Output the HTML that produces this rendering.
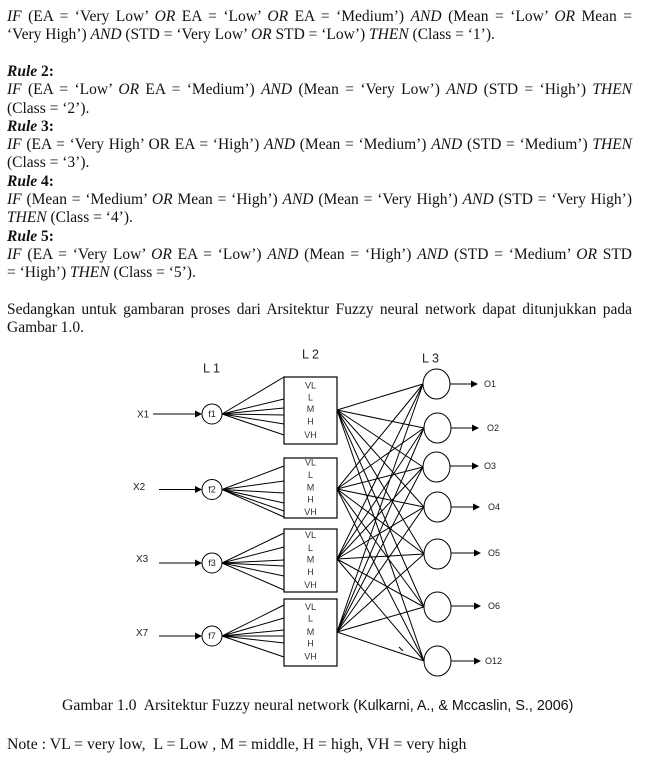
<!DOCTYPE html>
<html><head><meta charset="utf-8"><style>
html,body{margin:0;padding:0;background:#fff;}
body{width:647px;height:767px;position:relative;overflow:hidden;color:#111;}
.l{position:absolute;left:7px;width:625px;height:18.3px;line-height:18.3px;font-family:"Liberation Serif","Times New Roman",serif;font-size:15.5px;white-space:nowrap;}
.j{text-align:justify;text-align-last:justify;white-space:normal;}
svg{position:absolute;left:0;top:0;}
</style></head><body>
<div class="l j" style="top:8px"><i>IF</i> (EA = ‘Very Low’ <i>OR</i> EA = ‘Low’ <i>OR</i> EA = ‘Medium’) <i>AND</i> (Mean = ‘Low’ <i>OR</i> Mean =</div>
<div class="l" style="top:26.3px">‘Very High’) <i>AND</i> (STD = ‘Very Low’ <i>OR</i> STD = ‘Low’) <i>THEN</i> (Class = ‘1’).</div>
<div class="l" style="top:62.9px"><b><i>Rule</i> 2:</b></div>
<div class="l j" style="top:81.2px"><i>IF</i> (EA = ‘Low’ <i>OR</i> EA = ‘Medium’) <i>AND</i> (Mean = ‘Very Low’) <i>AND</i> (STD = ‘High’) <i>THEN</i></div>
<div class="l" style="top:99.5px">(Class = ‘2’).</div>
<div class="l" style="top:117.8px"><b><i>Rule</i> 3:</b></div>
<div class="l j" style="top:136.1px"><i>IF</i> (EA = ‘Very High’ OR EA = ‘High’) <i>AND</i> (Mean = ‘Medium’) <i>AND</i> (STD = ‘Medium’) <i>THEN</i></div>
<div class="l" style="top:154.4px">(Class = ‘3’).</div>
<div class="l" style="top:172.7px"><b><i>Rule</i> 4:</b></div>
<div class="l j" style="top:191px"><i>IF</i> (Mean = ‘Medium’ <i>OR</i> Mean = ‘High’) <i>AND</i> (Mean = ‘Very High’) <i>AND</i> (STD = ‘Very High’)</div>
<div class="l" style="top:209.3px"><i>THEN</i> (Class = ‘4’).</div>
<div class="l" style="top:227.6px"><b><i>Rule</i> 5:</b></div>
<div class="l j" style="top:245.9px"><i>IF</i> (EA = ‘Very Low’ <i>OR</i> EA = ‘Low’) <i>AND</i> (Mean = ‘High’) <i>AND</i> (STD = ‘Medium’ <i>OR</i> STD</div>
<div class="l" style="top:264.2px">= ‘High’) <i>THEN</i> (Class = ‘5’).</div>
<div class="l j" style="top:300.8px">Sedangkan untuk gambaran proses dari Arsitektur Fuzzy neural network dapat ditunjukkan pada</div>
<div class="l" style="top:319.1px">Gambar 1.0.</div>

<div class="l" style="top:697px;left:62px;width:560px;font-size:15.8px">Gambar 1.0&nbsp; Arsitektur Fuzzy neural network <span style="font-family:'Liberation Sans',Arial,sans-serif;font-size:14.3px">(Kulkarni, A., &amp; Mccaslin, S., 2006)</span></div>
<div class="l" style="top:736px;font-size:15.8px">Note : VL = very low,&nbsp; L = Low , M = middle, H = high, VH = very high</div>

<svg width="647" height="767" viewBox="0 0 647 767" xmlns="http://www.w3.org/2000/svg">
<g font-family="Liberation Sans, Arial, sans-serif" fill="#222">
<text x="203" y="372.5" font-size="12.5">L 1</text>
<text x="302" y="358.5" font-size="12.5">L 2</text>
<text x="422" y="362.5" font-size="12.5">L 3</text>
<text x="137" y="417.5" font-size="10">X1</text>
<text x="133" y="490" font-size="10">X2</text>
<text x="136" y="562" font-size="10">X3</text>
<text x="136" y="636" font-size="10">X7</text>
</g>
<!-- input arrows -->
<g stroke="#000" stroke-width="1.1">
<line x1="153" y1="414" x2="197" y2="414"/>
<line x1="159" y1="489.5" x2="197" y2="489.5"/>
<line x1="159" y1="563" x2="197" y2="563"/>
<line x1="159" y1="636" x2="197" y2="636"/>
</g>
<g fill="#000">
<polygon points="202,414 195,410.5 195,417.5"/>
<polygon points="202,489.5 195,486 195,493"/>
<polygon points="202,563 195,559.5 195,566.5"/>
<polygon points="202,636 195,632.5 195,639.5"/>
</g>
<!-- f circles -->
<g fill="#fff" stroke="#000" stroke-width="1">
<circle cx="212" cy="414" r="10"/>
<circle cx="212" cy="489.5" r="10"/>
<circle cx="212" cy="563" r="10"/>
<circle cx="212" cy="636" r="10"/>
</g>
<g font-family="Liberation Sans, Arial, sans-serif" font-size="9" fill="#222" text-anchor="middle">
<text x="212" y="417">f1</text>
<text x="212" y="492.5">f2</text>
<text x="212" y="566">f3</text>
<text x="212" y="639">f7</text>
</g>
<!-- fans to boxes -->
<path stroke="#000" stroke-width="1" fill="none" d="
M222 414 L284 377 M222 414 L284 399 M222 414 L284 408 M222 414 L284 415 M222 414 L284 424 M222 414 L284 435
M222 489.5 L284 466 M222 489.5 L284 481 M222 489.5 L284 493 M222 489.5 L284 503 M222 489.5 L284 511 M222 489.5 L284 517
M222 563 L284 533 M222 563 L284 547 M222 563 L284 560 M222 563 L284 566 M222 563 L284 576 M222 563 L284 590
M222 636 L284 605 M222 636 L284 618 M222 636 L284 630 M222 636 L284 636 M222 636 L284 643 M222 636 L284 657"/>
<!-- boxes -->
<g fill="#fff" stroke="#000" stroke-width="1.2">
<rect x="284" y="377" width="53" height="67"/>
<rect x="284" y="458" width="53" height="60"/>
<rect x="284" y="529" width="53" height="63"/>
<rect x="284" y="599" width="53" height="67"/>
</g>
<g font-family="Liberation Sans, Arial, sans-serif" font-size="9" fill="#333" text-anchor="middle">
<text x="310.5" y="388.5">VL</text><text x="310.5" y="400.5">L</text><text x="310.5" y="412">M</text><text x="310.5" y="424.5">H</text><text x="310.5" y="438">VH</text>
<text x="310.5" y="465.5">VL</text><text x="310.5" y="478">L</text><text x="310.5" y="490.5">M</text><text x="310.5" y="502.5">H</text><text x="310.5" y="515">VH</text>
<text x="310.5" y="538">VL</text><text x="310.5" y="551">L</text><text x="310.5" y="562.5">M</text><text x="310.5" y="575">H</text><text x="310.5" y="588">VH</text>
<text x="310.5" y="610">VL</text><text x="310.5" y="621.5">L</text><text x="310.5" y="635">M</text><text x="310.5" y="646.5">H</text><text x="310.5" y="659.5">VH</text>
</g>
<!-- full connections -->
<path stroke="#000" stroke-width="1" fill="none" d="
M337 410 L423 384 M337 410 L424 428 M337 410 L423 467 M337 410 L424 507 M337 410 L424 554 M337 410 L424 607 M337 410 L424 661
M337 489 L423 384 M337 489 L424 428 M337 489 L423 467 M337 489 L424 507 M337 489 L424 554 M337 489 L424 607 M337 489 L424 661
M337 559 L423 384 M337 559 L424 428 M337 559 L423 467 M337 559 L424 507 M337 559 L424 554 M337 559 L424 607 M337 559 L424 661
M337 632 L423 384 M337 632 L424 428 M337 632 L423 467 M337 632 L424 507 M337 632 L424 554 M337 632 L424 607 M337 632 L424 661
M399 647 L403 651"/>
<!-- output circles -->
<g fill="#fff" stroke="#000" stroke-width="1">
<ellipse cx="436.5" cy="384" rx="13.5" ry="15"/>
<ellipse cx="437.5" cy="428" rx="13.5" ry="15"/>
<ellipse cx="436.5" cy="467" rx="13.5" ry="15"/>
<ellipse cx="437.5" cy="507" rx="13.5" ry="15"/>
<ellipse cx="437.5" cy="554" rx="13.5" ry="15"/>
<ellipse cx="437.5" cy="607" rx="13.5" ry="15"/>
<ellipse cx="437.5" cy="661" rx="13.5" ry="15"/>
</g>
<g stroke="#000" stroke-width="1.1">
<line x1="450" y1="384" x2="473" y2="384"/>
<line x1="451" y1="428" x2="474" y2="428"/>
<line x1="450" y1="466" x2="474" y2="466"/>
<line x1="451" y1="507" x2="475" y2="507"/>
<line x1="451" y1="553" x2="476" y2="553"/>
<line x1="451" y1="606" x2="476" y2="606"/>
<line x1="451" y1="661" x2="476" y2="661"/>
</g>
<g fill="#000">
<polygon points="478,384 471,380.5 471,387.5"/>
<polygon points="479,428 472,424.5 472,431.5"/>
<polygon points="479,466 472,462.5 472,469.5"/>
<polygon points="480,507 473,503.5 473,510.5"/>
<polygon points="481,553 474,549.5 474,556.5"/>
<polygon points="481,606 474,602.5 474,609.5"/>
<polygon points="481,661 474,657.5 474,664.5"/>
</g>
<g font-family="Liberation Sans, Arial, sans-serif" font-size="9" fill="#222">
<text x="484" y="387">O1</text>
<text x="487" y="431">O2</text>
<text x="484" y="469">O3</text>
<text x="488" y="510">O4</text>
<text x="488" y="556">O5</text>
<text x="488" y="609">O6</text>
<text x="485" y="664">O12</text>
</g>
</svg>
</body></html>
